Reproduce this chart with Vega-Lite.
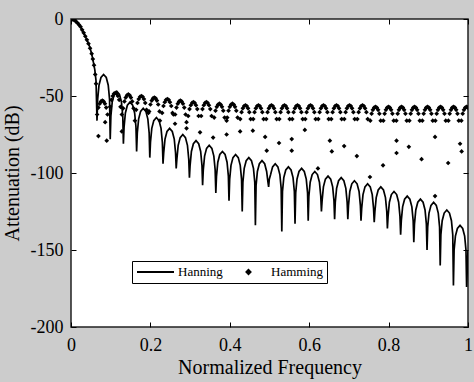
{
"$schema": "https://vega.github.io/schema/vega-lite/v6.json",
"autosize": {"type": "none"},
"width": 397,
"height": 308,
"padding": {"left": 71, "top": 19, "right": 6, "bottom": 55},
"background": "#cccccc",
"config": {
  "view": {"fill": "white", "stroke": "#222222", "strokeWidth": 1.5},
  "font": "Liberation Serif"
},
"datasets": {
"hann": [
{"x":0,"y":0},{"x":0.008,"y":-0.7},{"x":0.016,"y":-2.5},{"x":0.024,"y":-5},{"x":0.032,"y":-9},{"x":0.04,"y":-13.5},{"x":0.047,"y":-18},{"x":0.052,"y":-22.5},{"x":0.056,"y":-27.5},{"x":0.06,"y":-33},{"x":0.063,"y":-40},{"x":0.0655,"y":-66},
{"x":0.0672,"y":-52},{"x":0.0705,"y":-43},{"x":0.0755,"y":-38},{"x":0.0821,"y":-36},{"x":0.0888,"y":-38},{"x":0.0938,"y":-43},{"x":0.0971,"y":-52},
{"x":0.0988,"y":-78},
{"x":0.1005,"y":-63},{"x":0.1038,"y":-54},{"x":0.1088,"y":-49},{"x":0.1154,"y":-47},{"x":0.1221,"y":-49},{"x":0.1271,"y":-54},{"x":0.1304,"y":-63},
{"x":0.132,"y":-81},
{"x":0.1337,"y":-70},{"x":0.137,"y":-61},{"x":0.142,"y":-56},{"x":0.1486,"y":-54},{"x":0.1553,"y":-56},{"x":0.1603,"y":-61},{"x":0.1636,"y":-70},
{"x":0.1653,"y":-86},
{"x":0.167,"y":-74},{"x":0.1703,"y":-65},{"x":0.1753,"y":-60},{"x":0.1819,"y":-58},{"x":0.1886,"y":-60},{"x":0.1936,"y":-65},{"x":0.1969,"y":-74},
{"x":0.1985,"y":-90},
{"x":0.2002,"y":-80},{"x":0.2035,"y":-71},{"x":0.2085,"y":-66},{"x":0.2151,"y":-64},{"x":0.2218,"y":-66},{"x":0.2268,"y":-71},{"x":0.2301,"y":-80},
{"x":0.2318,"y":-94},
{"x":0.2335,"y":-87},{"x":0.2368,"y":-78},{"x":0.2418,"y":-73},{"x":0.2484,"y":-71},{"x":0.2551,"y":-73},{"x":0.2601,"y":-78},{"x":0.2634,"y":-87},
{"x":0.265,"y":-97},
{"x":0.2667,"y":-91},{"x":0.27,"y":-82},{"x":0.275,"y":-77},{"x":0.2816,"y":-75},{"x":0.2883,"y":-77},{"x":0.2933,"y":-82},{"x":0.2966,"y":-91},
{"x":0.2983,"y":-103},
{"x":0.3,"y":-95},{"x":0.3033,"y":-86},{"x":0.3083,"y":-81},{"x":0.3149,"y":-79},{"x":0.3216,"y":-81},{"x":0.3266,"y":-86},{"x":0.3299,"y":-95},
{"x":0.3315,"y":-108},
{"x":0.3332,"y":-98},{"x":0.3365,"y":-89},{"x":0.3415,"y":-84},{"x":0.3481,"y":-82},{"x":0.3548,"y":-84},{"x":0.3598,"y":-89},{"x":0.3631,"y":-98},
{"x":0.3648,"y":-113},
{"x":0.3665,"y":-102},{"x":0.3698,"y":-93},{"x":0.3748,"y":-88},{"x":0.3814,"y":-86},{"x":0.3881,"y":-88},{"x":0.3931,"y":-93},{"x":0.3964,"y":-102},
{"x":0.398,"y":-118},
{"x":0.3997,"y":-104},{"x":0.403,"y":-95},{"x":0.408,"y":-90},{"x":0.4146,"y":-88},{"x":0.4213,"y":-90},{"x":0.4263,"y":-95},{"x":0.4296,"y":-104},
{"x":0.4313,"y":-125},
{"x":0.433,"y":-106},{"x":0.4363,"y":-97},{"x":0.4413,"y":-92},{"x":0.4479,"y":-90},{"x":0.4546,"y":-92},{"x":0.4596,"y":-97},{"x":0.4629,"y":-106},
{"x":0.4645,"y":-134},
{"x":0.4662,"y":-108},{"x":0.4695,"y":-99},{"x":0.4745,"y":-94},{"x":0.4811,"y":-92},{"x":0.4878,"y":-94},{"x":0.4928,"y":-99},{"x":0.4961,"y":-106},
{"x":0.4978,"y":-109},
{"x":0.4995,"y":-104},{"x":0.5028,"y":-101},{"x":0.5078,"y":-96},{"x":0.5144,"y":-94},{"x":0.5211,"y":-96},{"x":0.5261,"y":-101},{"x":0.5294,"y":-110},
{"x":0.531,"y":-138},
{"x":0.5327,"y":-112},{"x":0.536,"y":-103},{"x":0.541,"y":-98},{"x":0.5476,"y":-96},{"x":0.5543,"y":-98},{"x":0.5593,"y":-103},{"x":0.5626,"y":-112},
{"x":0.5643,"y":-133},
{"x":0.566,"y":-113},{"x":0.5693,"y":-104},{"x":0.5743,"y":-99},{"x":0.5809,"y":-97},{"x":0.5876,"y":-99},{"x":0.5926,"y":-104},{"x":0.5959,"y":-113},
{"x":0.5975,"y":-131},
{"x":0.5992,"y":-115},{"x":0.6025,"y":-106},{"x":0.6075,"y":-101},{"x":0.6141,"y":-99},{"x":0.6208,"y":-101},{"x":0.6258,"y":-106},{"x":0.6291,"y":-115},
{"x":0.6308,"y":-125},
{"x":0.6325,"y":-118},{"x":0.6358,"y":-109},{"x":0.6408,"y":-104},{"x":0.6474,"y":-102},{"x":0.6541,"y":-104},{"x":0.6591,"y":-109},{"x":0.6624,"y":-118},
{"x":0.664,"y":-130},
{"x":0.6657,"y":-119},{"x":0.669,"y":-110},{"x":0.674,"y":-105},{"x":0.6806,"y":-103},{"x":0.6873,"y":-105},{"x":0.6923,"y":-110},{"x":0.6956,"y":-119},
{"x":0.6973,"y":-130},
{"x":0.699,"y":-121},{"x":0.7023,"y":-112},{"x":0.7073,"y":-107},{"x":0.7139,"y":-105},{"x":0.7206,"y":-107},{"x":0.7256,"y":-112},{"x":0.7289,"y":-121},
{"x":0.7305,"y":-131},
{"x":0.7322,"y":-123},{"x":0.7355,"y":-114},{"x":0.7405,"y":-109},{"x":0.7471,"y":-107},{"x":0.7538,"y":-109},{"x":0.7588,"y":-114},{"x":0.7621,"y":-123},
{"x":0.7638,"y":-132},
{"x":0.7655,"y":-125},{"x":0.7688,"y":-116},{"x":0.7738,"y":-111},{"x":0.7804,"y":-109},{"x":0.7871,"y":-111},{"x":0.7921,"y":-116},{"x":0.7954,"y":-125},
{"x":0.797,"y":-136},
{"x":0.7987,"y":-128},{"x":0.802,"y":-119},{"x":0.807,"y":-114},{"x":0.8136,"y":-112},{"x":0.8203,"y":-114},{"x":0.8253,"y":-119},{"x":0.8286,"y":-128},
{"x":0.8303,"y":-140},
{"x":0.832,"y":-131},{"x":0.8353,"y":-122},{"x":0.8403,"y":-117},{"x":0.8469,"y":-115},{"x":0.8536,"y":-117},{"x":0.8586,"y":-122},{"x":0.8619,"y":-131},
{"x":0.8635,"y":-145},
{"x":0.8652,"y":-133},{"x":0.8685,"y":-124},{"x":0.8735,"y":-119},{"x":0.8801,"y":-117},{"x":0.8868,"y":-119},{"x":0.8918,"y":-124},{"x":0.8951,"y":-133},
{"x":0.8968,"y":-150},
{"x":0.8985,"y":-135},{"x":0.9018,"y":-126},{"x":0.9068,"y":-121},{"x":0.9134,"y":-119},{"x":0.9201,"y":-121},{"x":0.9251,"y":-126},{"x":0.9284,"y":-135},
{"x":0.93,"y":-160},
{"x":0.9317,"y":-140},{"x":0.935,"y":-131},{"x":0.94,"y":-126},{"x":0.9466,"y":-124},{"x":0.9533,"y":-126},{"x":0.9583,"y":-131},{"x":0.9616,"y":-140},
{"x":0.9633,"y":-173},
{"x":0.965,"y":-150},{"x":0.9683,"y":-141},{"x":0.9733,"y":-136},{"x":0.9799,"y":-134},{"x":0.9866,"y":-136},{"x":0.9916,"y":-141},{"x":0.9949,"y":-150},
{"x":0.9965,"y":-174},
{"x":1,"y":-150}
],
"hamm": [
{"x":0,"y":0},{"x":0.004,"y":-0.2},{"x":0.008,"y":-0.7},{"x":0.012,"y":-1.5},{"x":0.016,"y":-2.5},{"x":0.02,"y":-3.7},{"x":0.024,"y":-5},{"x":0.028,"y":-7},{"x":0.032,"y":-9},{"x":0.036,"y":-11.2},{"x":0.04,"y":-13.5},{"x":0.044,"y":-16},{"x":0.048,"y":-19},{"x":0.052,"y":-22.5},{"x":0.055,"y":-26},{"x":0.058,"y":-30},{"x":0.061,"y":-36},{"x":0.063,"y":-42},
{"x":0.0658,"y":-62},{"x":0.0691,"y":-57.5},{"x":0.0723,"y":-55},{"x":0.0756,"y":-53.5},{"x":0.0789,"y":-53},{"x":0.0822,"y":-53.5},{"x":0.0854,"y":-55},{"x":0.0887,"y":-57.5},{"x":0.092,"y":-62},
{"x":0.0985,"y":-57},{"x":0.1018,"y":-52.5},{"x":0.105,"y":-50},{"x":0.1083,"y":-48.5},{"x":0.1116,"y":-48},{"x":0.1149,"y":-48.5},{"x":0.1181,"y":-50},{"x":0.1214,"y":-52.5},{"x":0.1247,"y":-57},
{"x":0.1313,"y":-58},{"x":0.1346,"y":-53.5},{"x":0.1378,"y":-51},{"x":0.1411,"y":-49.5},{"x":0.1444,"y":-49},{"x":0.1477,"y":-49.5},{"x":0.1509,"y":-51},{"x":0.1542,"y":-53.5},{"x":0.1575,"y":-58},
{"x":0.1641,"y":-59},{"x":0.1674,"y":-54.5},{"x":0.1706,"y":-52},{"x":0.1739,"y":-50.5},{"x":0.1772,"y":-50},{"x":0.1805,"y":-50.5},{"x":0.1837,"y":-52},{"x":0.187,"y":-54.5},{"x":0.1903,"y":-59},
{"x":0.1968,"y":-60},{"x":0.2001,"y":-55.5},{"x":0.2033,"y":-53},{"x":0.2066,"y":-51.5},{"x":0.2099,"y":-51},{"x":0.2132,"y":-51.5},{"x":0.2164,"y":-53},{"x":0.2197,"y":-55.5},{"x":0.223,"y":-60},
{"x":0.2296,"y":-61},{"x":0.2329,"y":-56.5},{"x":0.2361,"y":-54},{"x":0.2394,"y":-52.5},{"x":0.2427,"y":-52},{"x":0.246,"y":-52.5},{"x":0.2492,"y":-54},{"x":0.2525,"y":-56.5},{"x":0.2558,"y":-61},
{"x":0.2624,"y":-62},{"x":0.2657,"y":-57.5},{"x":0.2689,"y":-55},{"x":0.2722,"y":-53.5},{"x":0.2755,"y":-53},{"x":0.2788,"y":-53.5},{"x":0.282,"y":-55},{"x":0.2853,"y":-57.5},{"x":0.2886,"y":-62},
{"x":0.2952,"y":-63},{"x":0.2985,"y":-58.5},{"x":0.3017,"y":-56},{"x":0.305,"y":-54.5},{"x":0.3083,"y":-54},{"x":0.3116,"y":-54.5},{"x":0.3148,"y":-56},{"x":0.3181,"y":-58.5},{"x":0.3214,"y":-63},
{"x":0.3279,"y":-63},{"x":0.3312,"y":-58.5},{"x":0.3344,"y":-56},{"x":0.3377,"y":-54.5},{"x":0.341,"y":-54},{"x":0.3443,"y":-54.5},{"x":0.3475,"y":-56},{"x":0.3508,"y":-58.5},{"x":0.3541,"y":-63},
{"x":0.3607,"y":-64},{"x":0.364,"y":-59.5},{"x":0.3672,"y":-57},{"x":0.3705,"y":-55.5},{"x":0.3738,"y":-55},{"x":0.3771,"y":-55.5},{"x":0.3803,"y":-57},{"x":0.3836,"y":-59.5},{"x":0.3869,"y":-64},
{"x":0.3935,"y":-64},{"x":0.3968,"y":-59.5},{"x":0.4,"y":-57},{"x":0.4033,"y":-55.5},{"x":0.4066,"y":-55},{"x":0.4099,"y":-55.5},{"x":0.4131,"y":-57},{"x":0.4164,"y":-59.5},{"x":0.4197,"y":-64},
{"x":0.4263,"y":-65},{"x":0.4296,"y":-60.5},{"x":0.4328,"y":-58},{"x":0.4361,"y":-56.5},{"x":0.4394,"y":-56},{"x":0.4427,"y":-56.5},{"x":0.4459,"y":-58},{"x":0.4492,"y":-60.5},{"x":0.4525,"y":-65},
{"x":0.459,"y":-65},{"x":0.4623,"y":-60.5},{"x":0.4655,"y":-58},{"x":0.4688,"y":-56.5},{"x":0.4721,"y":-56},{"x":0.4754,"y":-56.5},{"x":0.4786,"y":-58},{"x":0.4819,"y":-60.5},{"x":0.4852,"y":-65},
{"x":0.4918,"y":-65},{"x":0.4951,"y":-60.5},{"x":0.4983,"y":-58},{"x":0.5016,"y":-56.5},{"x":0.5049,"y":-56},{"x":0.5082,"y":-56.5},{"x":0.5114,"y":-58},{"x":0.5147,"y":-60.5},{"x":0.518,"y":-65},
{"x":0.5246,"y":-65},{"x":0.5279,"y":-60.5},{"x":0.5311,"y":-58},{"x":0.5344,"y":-56.5},{"x":0.5377,"y":-56},{"x":0.541,"y":-56.5},{"x":0.5442,"y":-58},{"x":0.5475,"y":-60.5},{"x":0.5508,"y":-65},
{"x":0.5574,"y":-65},{"x":0.5607,"y":-60.5},{"x":0.5639,"y":-58},{"x":0.5672,"y":-56.5},{"x":0.5705,"y":-56},{"x":0.5738,"y":-56.5},{"x":0.577,"y":-58},{"x":0.5803,"y":-60.5},{"x":0.5836,"y":-65},
{"x":0.5901,"y":-65},{"x":0.5934,"y":-60.5},{"x":0.5966,"y":-58},{"x":0.5999,"y":-56.5},{"x":0.6032,"y":-56},{"x":0.6065,"y":-56.5},{"x":0.6097,"y":-58},{"x":0.613,"y":-60.5},{"x":0.6163,"y":-65},
{"x":0.6229,"y":-65},{"x":0.6262,"y":-60.5},{"x":0.6294,"y":-58},{"x":0.6327,"y":-56.5},{"x":0.636,"y":-56},{"x":0.6393,"y":-56.5},{"x":0.6425,"y":-58},{"x":0.6458,"y":-60.5},{"x":0.6491,"y":-65},
{"x":0.6556,"y":-65},{"x":0.6589,"y":-60.5},{"x":0.6621,"y":-58},{"x":0.6654,"y":-56.5},{"x":0.6687,"y":-56},{"x":0.672,"y":-56.5},{"x":0.6752,"y":-58},{"x":0.6785,"y":-60.5},{"x":0.6818,"y":-65},
{"x":0.6884,"y":-65},{"x":0.6917,"y":-60.5},{"x":0.6949,"y":-58},{"x":0.6982,"y":-56.5},{"x":0.7015,"y":-56},{"x":0.7048,"y":-56.5},{"x":0.708,"y":-58},{"x":0.7113,"y":-60.5},{"x":0.7146,"y":-65},
{"x":0.7212,"y":-65},{"x":0.7245,"y":-60.5},{"x":0.7277,"y":-58},{"x":0.731,"y":-56.5},{"x":0.7343,"y":-56},{"x":0.7376,"y":-56.5},{"x":0.7408,"y":-58},{"x":0.7441,"y":-60.5},{"x":0.7474,"y":-65},
{"x":0.7539,"y":-66},{"x":0.7572,"y":-61.5},{"x":0.7604,"y":-59},{"x":0.7637,"y":-57.5},{"x":0.767,"y":-57},{"x":0.7703,"y":-57.5},{"x":0.7735,"y":-59},{"x":0.7768,"y":-61.5},{"x":0.7801,"y":-66},
{"x":0.7867,"y":-66},{"x":0.79,"y":-61.5},{"x":0.7932,"y":-59},{"x":0.7965,"y":-57.5},{"x":0.7998,"y":-57},{"x":0.8031,"y":-57.5},{"x":0.8063,"y":-59},{"x":0.8096,"y":-61.5},{"x":0.8129,"y":-66},
{"x":0.8195,"y":-66},{"x":0.8228,"y":-61.5},{"x":0.826,"y":-59},{"x":0.8293,"y":-57.5},{"x":0.8326,"y":-57},{"x":0.8359,"y":-57.5},{"x":0.8391,"y":-59},{"x":0.8424,"y":-61.5},{"x":0.8457,"y":-66},
{"x":0.8523,"y":-66},{"x":0.8556,"y":-61.5},{"x":0.8588,"y":-59},{"x":0.8621,"y":-57.5},{"x":0.8654,"y":-57},{"x":0.8687,"y":-57.5},{"x":0.8719,"y":-59},{"x":0.8752,"y":-61.5},{"x":0.8785,"y":-66},
{"x":0.885,"y":-66},{"x":0.8883,"y":-61.5},{"x":0.8915,"y":-59},{"x":0.8948,"y":-57.5},{"x":0.8981,"y":-57},{"x":0.9014,"y":-57.5},{"x":0.9046,"y":-59},{"x":0.9079,"y":-61.5},{"x":0.9112,"y":-66},
{"x":0.9178,"y":-66},{"x":0.9211,"y":-61.5},{"x":0.9243,"y":-59},{"x":0.9276,"y":-57.5},{"x":0.9309,"y":-57},{"x":0.9342,"y":-57.5},{"x":0.9374,"y":-59},{"x":0.9407,"y":-61.5},{"x":0.944,"y":-66},
{"x":0.9506,"y":-66},{"x":0.9539,"y":-61.5},{"x":0.9571,"y":-59},{"x":0.9604,"y":-57.5},{"x":0.9637,"y":-57},{"x":0.967,"y":-57.5},{"x":0.9702,"y":-59},{"x":0.9735,"y":-61.5},{"x":0.9768,"y":-66},
{"x":0.9833,"y":-66},{"x":0.9866,"y":-61.5},{"x":0.9898,"y":-59},{"x":0.9931,"y":-57.5},{"x":0.9964,"y":-57},{"x":0.9997,"y":-57.5},
{"x":0.069,"y":-76},{"x":0.09,"y":-79},{"x":0.086,"y":-67},{"x":0.128,"y":-73},{"x":0.128,"y":-62},{"x":0.161,"y":-66},{"x":0.195,"y":-61},{"x":0.224,"y":-66},{"x":0.258,"y":-62},{"x":0.262,"y":-68},{"x":0.291,"y":-67},{"x":0.291,"y":-71},{"x":0.325,"y":-73.6},{"x":0.358,"y":-77},{"x":0.392,"y":-75},{"x":0.392,"y":-66},{"x":0.426,"y":-73},{"x":0.458,"y":-72.5},{"x":0.489,"y":-76.6},{"x":0.493,"y":-85.5},{"x":0.524,"y":-80.5},{"x":0.556,"y":-78},{"x":0.556,"y":-85.5},{"x":0.589,"y":-72},{"x":0.622,"y":-97},{"x":0.652,"y":-79},{"x":0.657,"y":-86},{"x":0.688,"y":-82.5},{"x":0.72,"y":-89},{"x":0.753,"y":-102.6},{"x":0.786,"y":-95},{"x":0.82,"y":-79},{"x":0.82,"y":-87},{"x":0.851,"y":-83},{"x":0.883,"y":-91},{"x":0.917,"y":-76.6},{"x":0.917,"y":-115},{"x":0.95,"y":-93.5},{"x":0.98,"y":-81},{"x":0.984,"y":-86}
]
},
"layer": [
{
  "data": {"name": "hann"},
  "mark": {"type": "line", "strokeWidth": 1.7, "clip": true},
  "encoding": {
    "x": {"field": "x", "type": "quantitative", "scale": {"domain": [0, 1], "nice": false},
      "axis": {"orient": "bottom", "values": [0, 0.2, 0.4, 0.6, 0.8, 1], "format": "~g", "title": "Normalized Frequency", "grid": false, "domain": false, "tickSize": -5, "tickColor": "black", "labelFont": "Liberation Serif", "labelFontSize": 18, "labelColor": "black", "labelPadding": 14, "labelFlush": false, "labelOverlap": false, "titleFont": "Liberation Serif", "titleFontSize": 20, "titleFontWeight": "normal", "titleColor": "black", "titlePadding": 3}},
    "y": {"field": "y", "type": "quantitative", "scale": {"domain": [-200, 0], "nice": false},
      "axis": {"orient": "left", "values": [-200, -150, -100, -50, 0], "labelExpr": "'' + datum.value", "title": "Attenuation (dB)", "grid": false, "domain": false, "tickSize": -5, "tickColor": "black", "labelFont": "Liberation Serif", "labelFontSize": 18, "labelColor": "black", "labelPadding": 13, "labelFlush": false, "labelOverlap": false, "titleFont": "Liberation Serif", "titleFontSize": 20, "titleFontWeight": "normal", "titleColor": "black", "titlePadding": 8}},
    "color": {"datum": "Hanning", "type": "nominal", "scale": {"domain": ["Hanning", "Hamming"], "range": ["black", "black"]},
      "legend": {"orient": "none", "legendX": 61, "legendY": 242, "direction": "horizontal", "title": null, "strokeColor": "black", "fillColor": "white", "padding": 4, "clipHeight": 14, "symbolSize": 1369, "symbolType": "stroke", "symbolStrokeWidth": 1.8, "symbolStrokeColor": "black", "symbolFillColor": "black", "labelFont": "Liberation Serif", "labelFontSize": 13, "labelColor": "black", "labelOffset": 3, "columnPadding": 6,
        "encode": {"symbols": {"update": {"shape": {"signal": "datum.value === 'Hamming' ? 'diamond' : 'stroke'"}, "size": {"signal": "datum.value === 'Hamming' ? 18 : 1369"}, "fill": {"value": "black"}, "stroke": {"value": "black"}, "opacity": {"value": 1}}}}}}
  }
},
{
  "data": {"name": "hamm"},
  "mark": {"type": "point", "shape": "diamond", "filled": true, "size": 22, "opacity": 1, "clip": true},
  "encoding": {
    "x": {"field": "x", "type": "quantitative", "scale": {"domain": [0, 1], "nice": false},
      "axis": {"orient": "top", "values": [0, 0.2, 0.4, 0.6, 0.8, 1], "labels": false, "title": null, "grid": false, "domain": false, "tickSize": -5, "tickColor": "black"}},
    "y": {"field": "y", "type": "quantitative", "scale": {"domain": [-200, 0], "nice": false},
      "axis": {"orient": "right", "values": [-200, -150, -100, -50, 0], "labels": false, "title": null, "grid": false, "domain": false, "tickSize": -5, "tickColor": "black"}},
    "color": {"datum": "Hamming", "type": "nominal"}
  }
}
],
"resolve": {"axis": {"x": "independent", "y": "independent"}}
}
